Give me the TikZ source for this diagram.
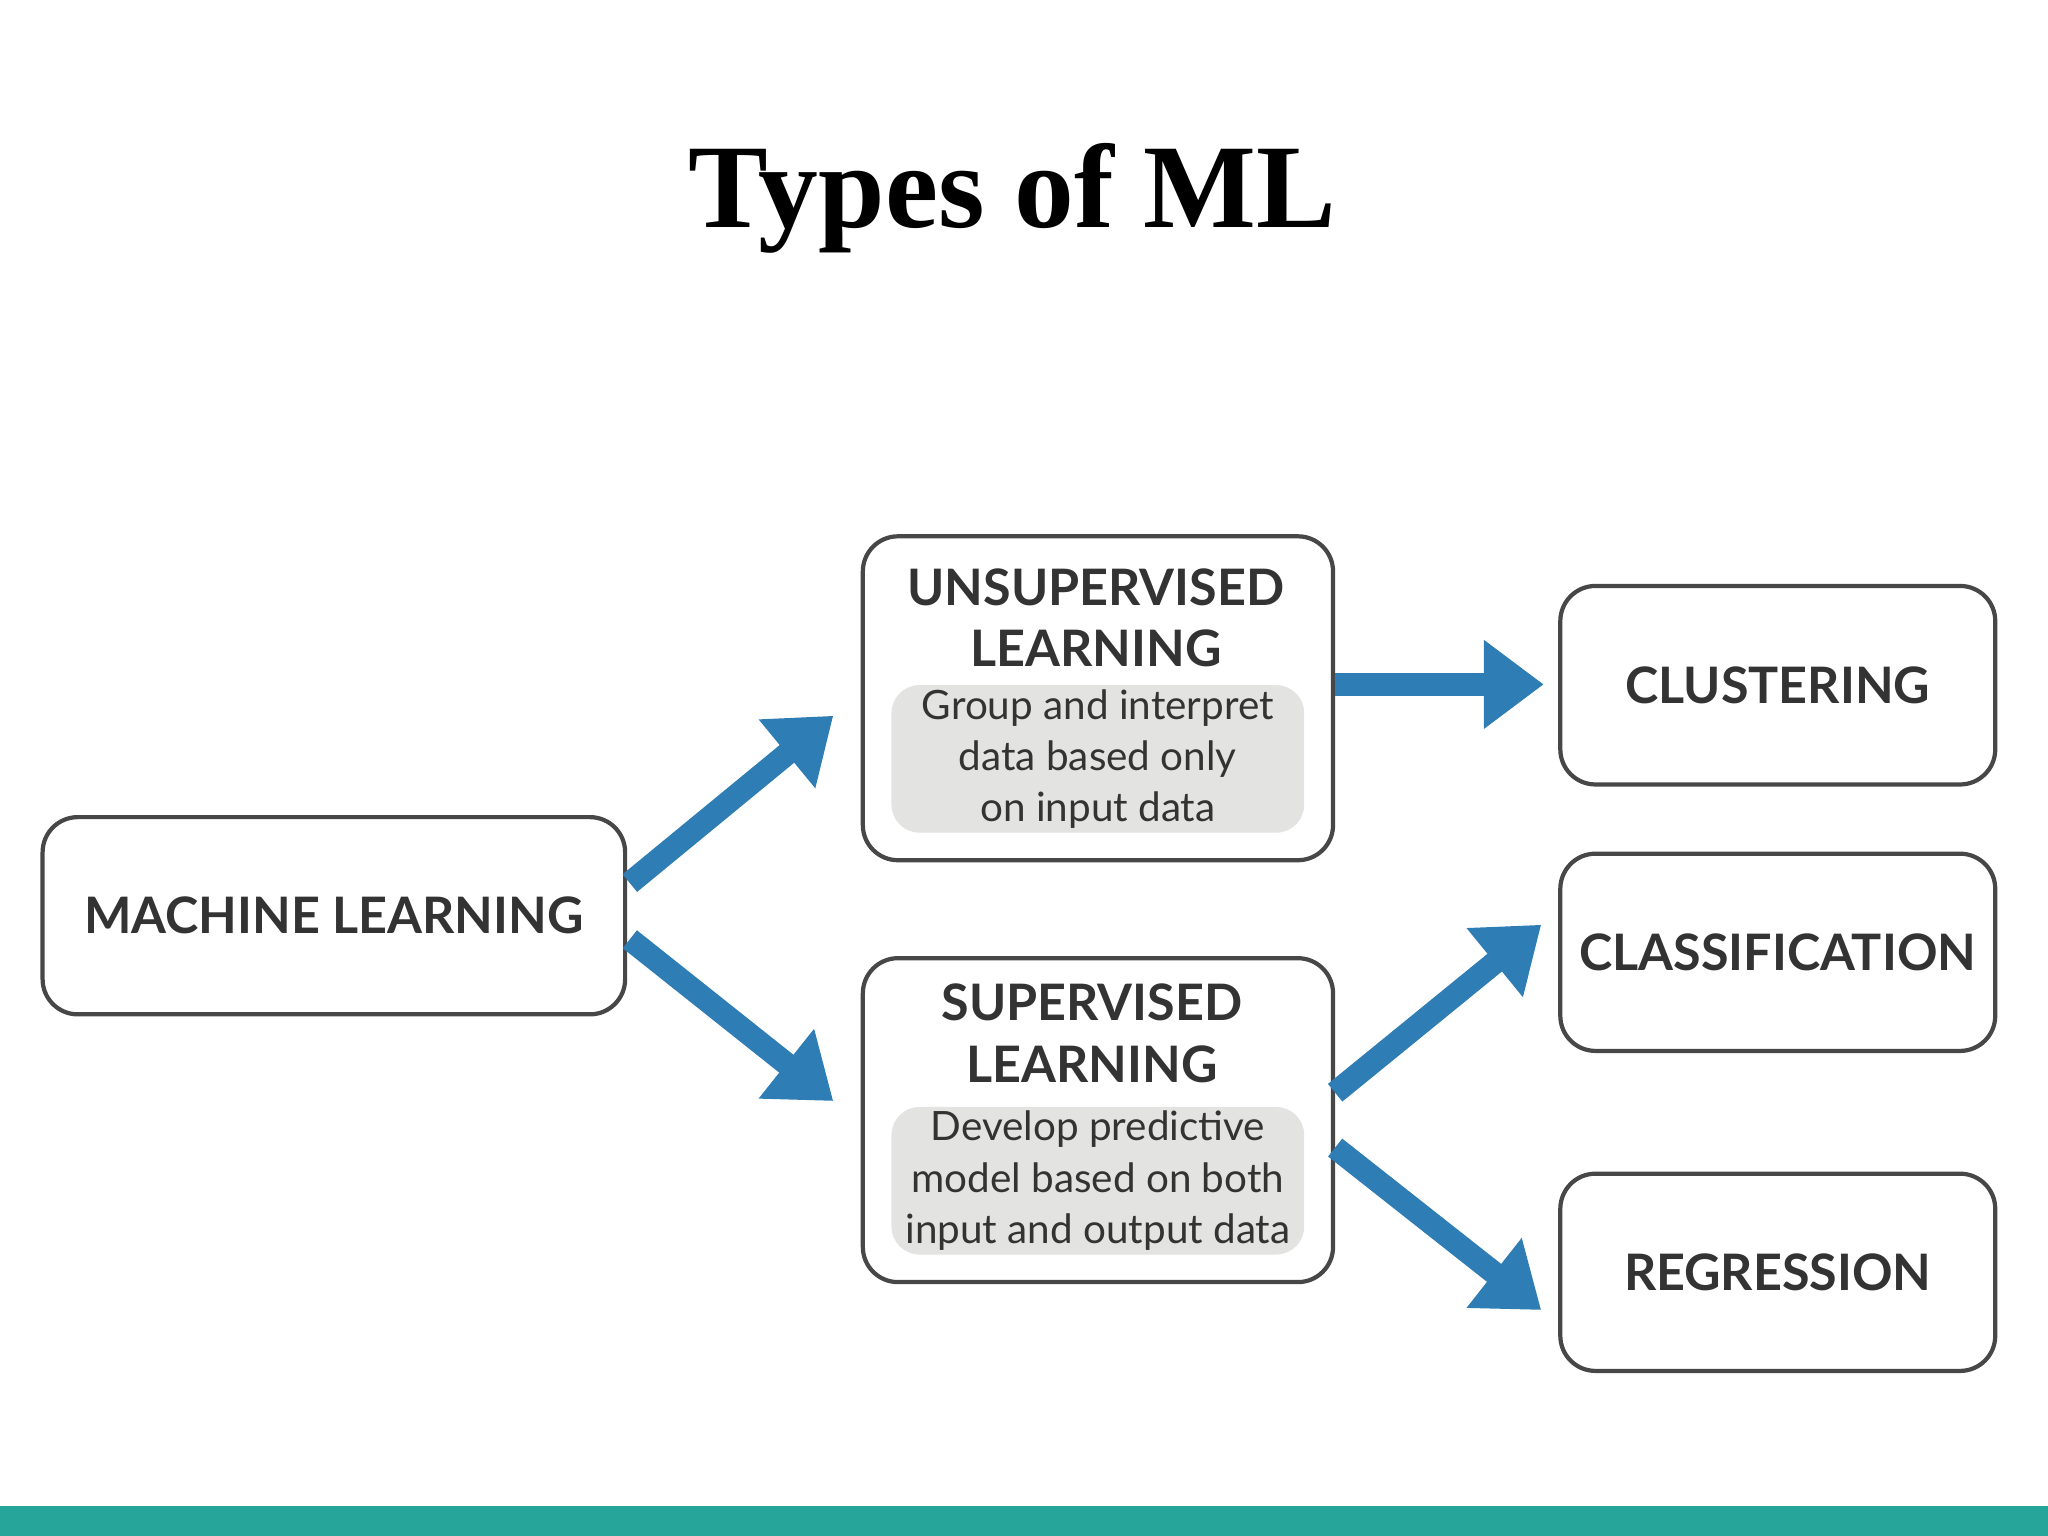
\documentclass[tikz,border=0pt]{standalone}
\usepackage{fontspec}
\setmainfont{Lato}
\newfontfamily\titlefont{Liberation Serif}
\usetikzlibrary{arrows.meta,calc}
\definecolor{ablue}{HTML}{2E7DB5}
\definecolor{teal}{HTML}{26A69A}
\definecolor{txt}{HTML}{333333}
\definecolor{ibox}{HTML}{E3E3E1}
\begin{document}
\begin{tikzpicture}[x=0.01306cm,y=-0.01306cm,
  box/.style={draw=txt!90,line width=1.2pt,rounded corners=10pt,fill=white,anchor=north west,text=txt,font=\bfseries\fontsize{14.3}{17}\selectfont,align=center,inner sep=0pt},
  inner/.style={fill=ibox,rounded corners=8pt,anchor=north west,inner sep=0pt},
  itxt/.style={text=txt,font=\fontsize{11.5}{14.6}\selectfont,align=center},
  ttl/.style={text=txt,font=\bfseries\fontsize{14.3}{17.5}\selectfont,align=center},
  arr/.style={draw=ablue,line width=6.5pt,-{Triangle[length=0.6cm,width=0.85cm]}}]
\useasboundingbox (0,0) rectangle (1568,1176);
\fill[teal] (0,1153) rectangle (1568,1176);
\node[font=\titlefont\bfseries\fontsize{34}{40}\selectfont] (title) at (775,152) {Types of ML};
\node[box,minimum width=446*0.01306cm,minimum height=151*0.01306cm] (ml) at (31,624) {MACHINE LEARNING};
\node[box,minimum width=360*0.01306cm,minimum height=248*0.01306cm] (uns) at (659,409) {};
\node[box,minimum width=360*0.01306cm,minimum height=248*0.01306cm] (sup) at (659,732) {};
\node[box,minimum width=333*0.01306cm,minimum height=152*0.01306cm] (clu) at (1193,447) {CLUSTERING};
\node[box,minimum width=333*0.01306cm,minimum height=151*0.01306cm] (cla) at (1193,652) {CLASSIFICATION};
\node[box,minimum width=333*0.01306cm,minimum height=151*0.01306cm] (reg) at (1193,897) {REGRESSION};
\node[ttl] (unst) at (839,473) {UNSUPERVISED\\LEARNING};
\node[ttl] (supt) at (836,791) {SUPERVISED\\LEARNING};
\node[inner,minimum width=316*0.01306cm,minimum height=113*0.01306cm] (unsi) at (682,524) {};
\node[itxt] (unsd) at (unsi.center) {Group and interpret\\data based only\\on input data};
\node[inner,minimum width=316*0.01306cm,minimum height=113*0.01306cm] (supi) at (682,847) {};
\node[itxt] (supd) at (supi.center) {Develop predictive\\model based on both\\input and output data};
\coordinate (a1) at (638,548);
\coordinate (a2) at (638,843);
\coordinate (a3) at (1182,524);
\coordinate (a4) at (1180,708);
\coordinate (a5) at (1180,1003);
\draw[arr] ($(ml.east)+(2,-25)$) -- (a1);
\draw[arr] ($(ml.east)+(2,18)$) -- (a2);
\draw[arr] (uns.east |- a3) -- (a3);
\draw[arr] ($(sup.east)+(0,-21)$) -- (a4);
\draw[arr] ($(sup.east)+(0,21)$) -- (a5);
\end{tikzpicture}
\end{document}
